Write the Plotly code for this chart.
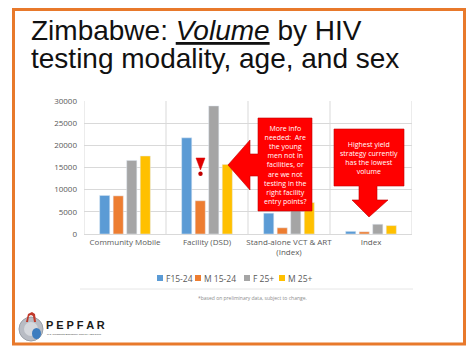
import plotly.graph_objects as go

# ---- data ----
categories = ["Community Mobile", "Facility (DSD)", "Stand-alone VCT & ART<br>(Index)", "Index"]
series_names = ["F15-24", "M 15-24", "F 25+", "M 25+"]
f15_24 = [8700, 21700, 4700, 600]
m15_24 = [8600, 7500, 1400, 500]
f25p = [16600, 28900, 8000, 2200]
m25p = [17600, 15700, 7100, 1900]
y_ticks = [0, 5000, 10000, 15000, 20000, 25000, 30000]

colors = ["#5B9BD5", "#ED7D31", "#A5A5A5", "#FFC000"]
values = [f15_24, m15_24, f25p, m25p]

W, H = 474, 355
L, R, T, B = 84, 412, 101, 234


def px(x):
    return (x - L) / (R - L)


def py(y):
    return (B - y) / (B - T)


fig = go.Figure()
for name, vals, col in zip(series_names, values, colors):
    fig.add_trace(go.Bar(x=list(range(len(categories))), y=vals, name=name,
                         marker_color=col, showlegend=False))

shapes = []
# vertical category separators
for k in range(len(categories) + 1):
    shapes.append(dict(type="line", xref="x", yref="paper", x0=k - 0.5, x1=k - 0.5,
                       y0=0, y1=1, line=dict(color="#D9D9D9", width=1), layer="below"))

# orange slide border
shapes.append(dict(type="rect", xref="paper", yref="paper", x0=px(13.5), x1=px(464.5),
                   y0=py(9.5), y1=py(344), line=dict(color="#E8792B", width=3)))
# faint chart frame bottom line
shapes.append(dict(type="line", xref="paper", yref="paper", x0=px(80), x1=px(413),
                   y0=py(289), y1=py(289), line=dict(color="#E6E6E6", width=1)))


def path(points):
    s = "M " + " L ".join(f"{px(x):.5f},{py(y):.5f}" for x, y in points) + " Z"
    return s


# left-pointing callout
pts1 = [(258, 118), (312, 118), (312, 211), (258, 211), (258, 176), (250, 176),
        (250, 190), (228, 165), (250, 140), (250, 154), (258, 154)]
shapes.append(dict(type="path", xref="paper", yref="paper", path=path(pts1),
                   fillcolor="#FF0000", line=dict(color="#C00000", width=0.6)))
# down-pointing callout
pts2 = [(334, 129), (404, 129), (404, 186), (377, 186), (377, 200), (388, 200),
        (369, 217), (352, 200), (359, 200), (359, 186), (334, 186)]
shapes.append(dict(type="path", xref="paper", yref="paper", path=path(pts2),
                   fillcolor="#FF0000", line=dict(color="#C00000", width=0.6)))
# exclamation mark
pts3 = [(196, 158), (205, 158), (200.5, 170)]
shapes.append(dict(type="path", xref="paper", yref="paper", path=path(pts3),
                   fillcolor="#E00000", line=dict(color="#E00000", width=0.5)))
shapes.append(dict(type="circle", xref="paper", yref="paper", x0=px(198.3), x1=px(202.7),
                   y0=py(171.5), y1=py(175.9), fillcolor="#C00000", line=dict(width=0)))

# manual legend squares
leg_x = [157, 195, 244, 279]
for xx, col in zip(leg_x, colors):
    shapes.append(dict(type="rect", xref="paper", yref="paper", x0=px(xx), x1=px(xx + 6),
                       y0=py(281), y1=py(275), fillcolor=col, line=dict(width=0)))

# PEPFAR logo (simple)
shapes.append(dict(type="circle", xref="paper", yref="paper", x0=px(19), x1=px(43),
                   y0=py(341), y1=py(317), fillcolor="#B8BCC4", line=dict(color="#9AA0A8", width=1)))
shapes.append(dict(type="circle", xref="paper", yref="paper", x0=px(24), x1=px(38),
                   y0=py(336), y1=py(322), fillcolor="#D5D8DD", line=dict(width=0)))
shapes.append(dict(type="circle", xref="paper", yref="paper", x0=px(32), x1=px(41),
                   y0=py(339), y1=py(328), fillcolor="#3D7DBF", line=dict(width=0)))
shapes.append(dict(type="path", xref="paper", yref="paper",
                   path=path([(26, 322), (28, 314), (32, 312), (35, 314), (36, 322), (34, 322), (33, 316), (31, 315), (29, 316), (28, 322)]),
                   fillcolor="#C0392B", line=dict(width=0)))

annotations = []
# title lines
annotations.append(dict(xref="paper", yref="paper", x=px(29), y=py(31), xanchor="left", yanchor="middle",
                        text="Zimbabwe: <i><u>Volume</u></i> by HIV", showarrow=False,
                        font=dict(family="Liberation Sans, Arial", size=28, color="#111111")))
annotations.append(dict(xref="paper", yref="paper", x=px(29), y=py(59), xanchor="left", yanchor="middle",
                        text="testing modality, age, and sex", showarrow=False,
                        font=dict(family="Liberation Sans, Arial", size=28, color="#111111")))
# callout texts
annotations.append(dict(xref="paper", yref="paper", x=px(285), y=py(164.5), xanchor="center", yanchor="middle",
                        text="More info<br>needed:  Are<br>the young<br>men not in<br>facilities, or<br>are we not<br>testing in the<br>right facility<br>entry points?",
                        showarrow=False, align="center",
                        font=dict(family="Open Sans, Liberation Sans", size=7, color="white")))
annotations.append(dict(xref="paper", yref="paper", x=px(369), y=py(157.5), xanchor="center", yanchor="middle",
                        text="Highest yield<br>strategy currently<br>has the lowest<br>volume",
                        showarrow=False, align="center",
                        font=dict(family="Open Sans, Liberation Sans", size=7, color="white")))
# legend texts
for xx, nm in zip(leg_x, series_names):
    annotations.append(dict(xref="paper", yref="paper", x=px(xx + 7), y=py(278), xanchor="left", yanchor="middle",
                            text=nm, showarrow=False,
                            font=dict(family="Open Sans, Liberation Sans", size=8.5, color="#595959")))
# footnote
annotations.append(dict(xref="paper", yref="paper", x=px(252), y=py(298), xanchor="center", yanchor="middle",
                        text="*based on preliminary data, subject to change.", showarrow=False,
                        font=dict(family="Open Sans, Liberation Sans", size=5, color="#8C8C8C")))
# logo text
annotations.append(dict(xref="paper", yref="paper", x=px(44), y=py(325), xanchor="left", yanchor="middle",
                        text="<b>P E P F A R</b>", showarrow=False,
                        font=dict(family="Liberation Sans, Arial", size=11, color="#1A1A1A")))
annotations.append(dict(xref="paper", yref="paper", x=px(45), y=py(334), xanchor="left", yanchor="middle",
                        text="U.S. President's Emergency Plan for AIDS Relief", showarrow=False,
                        font=dict(family="Liberation Sans, Arial", size=2.5, color="#333333")))

fig.update_layout(
    width=W, height=H,
    margin=dict(l=L, r=W - R, t=T, b=H - B, pad=0),
    paper_bgcolor="white", plot_bgcolor="white",
    barmode="group", bargap=0.34, bargroupgap=0.25,
    xaxis=dict(tickmode="array", tickvals=list(range(len(categories))), ticktext=categories,
               range=[-0.5, len(categories) - 0.5], showgrid=False, zeroline=False,
               showline=True, linecolor="#D9D9D9", ticks="",
               tickfont=dict(family="Open Sans, Liberation Sans", size=8, color="#595959")),
    yaxis=dict(range=[0, 30000], tickvals=y_ticks, tickformat="d", showgrid=True, gridcolor="#D9D9D9",
               zeroline=False, showline=False, ticks="", ticklabelstandoff=6,
               tickfont=dict(family="Open Sans, Liberation Sans", size=8, color="#595959")),
    shapes=shapes, annotations=annotations,
    showlegend=False,
)

fig.write_html("out.html", config={"displayModeBar": False},
               post_script="document.body.style.margin='0px';document.body.style.overflow='hidden';")
